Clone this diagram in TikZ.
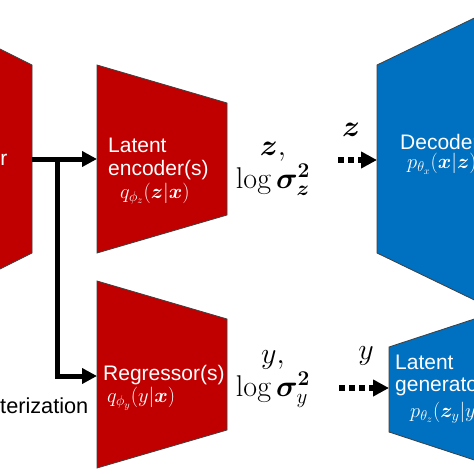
\RequirePackage{fix-cm}
\documentclass[tikz,border=0pt]{standalone}
\usepackage{fontspec}
\setsansfont{Liberation Sans}
\usepackage{amsmath,bm}
\usetikzlibrary{arrows.meta}
\definecolor{encred}{RGB}{192,0,0}
\definecolor{decblue}{RGB}{0,112,192}
\newcommand{\formula}[1]{{\fontsize{20.5}{23}\selectfont$#1$}}
\tikzset{
	encoder/.style = {fill=encred, draw=black!75, line width=0.8pt},
	decoder/.style = {fill=decblue, draw=black!75, line width=0.8pt},
	boxtext/.style = {text=white, font=\sffamily\fontsize{21}{23}\selectfont, align=left, inner sep=0pt, anchor=north west},
	sidetext/.style = {text=black, font=\sffamily\fontsize{21.7}{23}\selectfont, inner sep=0pt, anchor=base east},
	mathlabel/.style = {text=black, font=\fontsize{30}{33}\selectfont, align=center, inner sep=0pt, anchor=north},
	arrow/.style = {-{Triangle[length=15pt, width=15pt]}, line width=5pt},
	dotarrow/.style = {-{Triangle[length=16pt, width=16pt]}, line width=6pt, dash pattern=on 6pt off 4pt}
}

\begin{document}
\begin{tikzpicture}[x=1pt, y=-1pt]
		
		\useasboundingbox (0,0) rectangle (474,474);
		\clip (0,0) rectangle (474,474);
		
		% Blocks
		\draw [encoder] (-100,-1) -- (32,65) -- (32,253) -- (-100,319) -- cycle;
		\draw [encoder] (97,65) -- (227,103) -- (227,215) -- (97,253) -- cycle;
		\draw [encoder] (97,281) -- (227,319) -- (227,430) -- (97,468) -- cycle;
		\draw [decoder] (377,65) -- (520,-4) -- (520,322) -- (377,253) -- cycle;
		\draw [decoder] (389,347) -- (520,304) -- (520,475) -- (389,432) -- cycle;
		
		% Block texts
		\node (enc_text) [boxtext, anchor=base east] at (7.5,165) {Encoder};
		\node (lat_text) [boxtext] at (108,137.5) {Latent\\encoder(s)\\\hspace*{12pt}\formula{q_{\phi_z}(\bm{z}|\bm{x})}};
		\node (reg_text) [boxtext] at (103,365.5) {Regressor(s)\\[-1pt]\hspace*{4pt}\formula{q_{\phi_y}(y|\bm{x})}};
		\node (dec_text) [boxtext] at (400,134.5) {Decoder(s)\\[-4pt]\hspace*{7pt}\formula{p_{\theta_x}(\bm{x}|\bm{z})}};
		\node (gen_text) [boxtext] at (395,355) {Latent\\[-1pt]generator(s)\\[3pt]\hspace*{15pt}\formula{p_{\theta_z}(\bm{z}_y|y)}};
		\node (rep_text) [sidetext] at (88.5,413) {Reparameterization};
		
		% Outputs
		\node (zsig_text) [mathlabel] at (273,141.5) {$\bm{z},$\\$\log\bm{\sigma}_{\bm{z}}^{\bm{2}}$};
		\node (ysig_text) [mathlabel] at (273,350) {$y,$\\$\log\bm{\sigma}_{y}^{\bm{2}}$};
		\node (z_text) [mathlabel, anchor=center] at (351,130) {$\bm{z}$};
		\node (y_text) [mathlabel, anchor=center] at (366,356) {$y$};
		
		% Connector ends
		\coordinate (enc_out) at (32,159);
		\coordinate (branch) at (57,159);
		\coordinate (lat_in) at (97,159);
		\coordinate (reg_in) at (97,376);
		\coordinate (z_from) at (338,160);
		\coordinate (dec_in) at (377,160);
		\coordinate (y_from) at (339,388);
		\coordinate (gen_in) at (389,388);
		
		% Arrows
		\draw [arrow] (enc_out) -- (lat_in);
		\draw [arrow] (branch) |- (reg_in);
		\draw [dotarrow] (z_from) -- (dec_in);
		\draw [dotarrow] (y_from) -- (gen_in);
		
	\end{tikzpicture}
\end{document}
